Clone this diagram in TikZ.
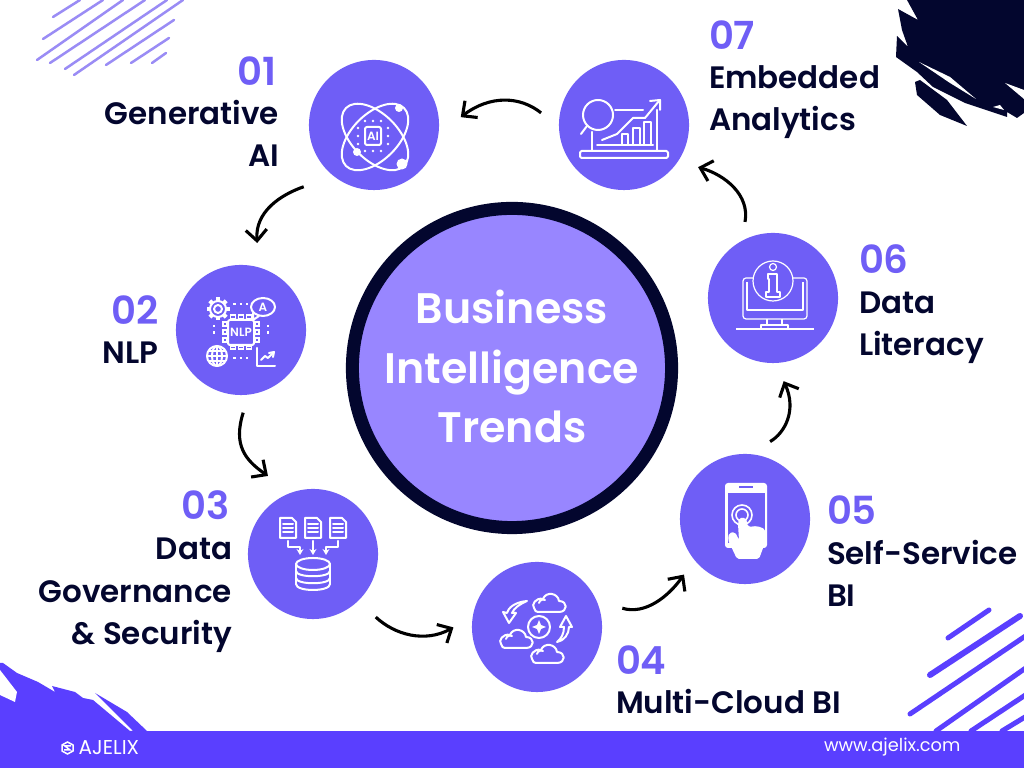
\documentclass[tikz,border=0pt]{standalone}
\usepackage{fontspec}
\setmainfont{Poppins}
\newfontfamily\semifont{Poppins SemiBold}
\usetikzlibrary{arrows.meta}
\definecolor{trendpurple}{HTML}{6F5EF6}
\definecolor{hubpurple}{HTML}{9886FF}
\definecolor{barpurple}{HTML}{5A3FFF}
\definecolor{linepurple}{HTML}{9A8CF5}
\definecolor{inknavy}{HTML}{03062E}
\tikzset{
  trend/.style={circle,fill=trendpurple,minimum size=1.3cm,inner sep=0pt,outer sep=0pt},
  hub/.style={circle,fill=hubpurple,draw=inknavy,line width=0.13cm,minimum size=3.19cm,inner sep=0pt},
  hubtitle/.style={inner sep=0pt,align=center,text=white,font=\semifont\fontsize{12.15}{16.8}\selectfont},
  numlabel/.style={inner sep=0pt,outer sep=0pt,text=trendpurple,font=\semifont\fontsize{11}{14}\selectfont},
  titlelabel/.style={inner sep=0pt,outer sep=0pt,text=inknavy,font=\semifont\fontsize{8.8}{12.1}\selectfont},
  flowline/.style={-{Straight Barb[length=0.11cm,width=0.21cm]},line width=0.031cm,black},
  icon/.style={draw=white,line width=0.02cm,line join=round,line cap=round},
  thinicon/.style={draw=white,line width=0.012cm,line join=round},
  dotrow/.style={white,line width=0.018cm,dash pattern=on 0.025cm off 0.04cm},
  tinylabel/.style={inner sep=0pt,text=white,font=\semifont\fontsize{3.4}{4}\selectfont}
}
\begin{document}
\begin{tikzpicture}[x=0.01cm,y=-0.01cm]
  \useasboundingbox[fill=white] (0,0) rectangle (1024,768);

  % corners
  \foreach \xa/\ya/\xb/\yb in {53/17/80/0,43/39/103/0,37/60/123/0,50/63/145/0,65/69/167/0,74/75/183/0,106/65/174/20,131/63/169/38,152/63/166/53}
    \draw[linepurple,line width=0.025cm,line cap=round] (\xa,\ya) -- (\xb,\yb);
  \foreach \xa/\ya/\xb/\yb/\w in {948/638/989/610/0.05,930/675/1020/616/0.06,910/714/1030/633/0.05,936/731/1030/665/0.05,971/731/1030/692/0.05,1002/731/1030/714/0.05}
    \draw[barpurple,line width=\w cm,line cap=round] (\xa,\ya) -- (\xb,\yb);
  \fill[inknavy] (907,0) -- (918,20) -- (898,9) -- (902,30) -- (908,47) -- (897,36) -- (896,57) -- (917,72) -- (933,87) -- (965,103) -- (1007,117) -- (1007,112) -- (1017,118) -- (1024,113) -- (1024,0) -- cycle;
  \fill[white] (919,62) -- (950,77) -- (976,99) -- (950,83) -- cycle;
  \fill[white] (1005,83) -- (1024,90) -- (1024,99) -- cycle;
  \fill[white] (993,107) -- (1000,105) -- (1004,110) -- cycle;
  \fill[inknavy] (915,82) -- (920,80) -- (947,100) -- (967,126) -- (940,115) -- (917,95) -- cycle;
  \fill[barpurple] (0,663) -- (3,663) -- (17,673) -- (38,682) -- (55,692) -- (52,686) -- (75,692) -- (83,698) -- (93,700) -- (130,731) -- (133,731) -- (95,693) -- (127,712) -- (147,731) -- (147,768) -- (0,768) -- cycle;
  \fill[white] (0,670) -- (17,692) -- (15,702) -- (0,695) -- cycle;
  \fill[barpurple] (0,731) rectangle (1024,768);

  % circles
  \node[hub] (hub) at (512,368) {};
  \node[hubtitle] (hubtext) at (512,366.5) {Business\\Intelligence\\Trends};
  \node[trend] (c01) at (374,125) {};
  \node[trend] (c02) at (241,330) {};
  \node[trend] (c03) at (313,554) {};
  \node[trend] (c04) at (537,627) {};
  \node[trend] (c05) at (745,519) {};
  \node[trend] (c06) at (773,298) {};
  \node[trend] (c07) at (624,125) {};

  % arrows
  \draw[flowline,shorten <=0.32cm,shorten >=0.245cm] (c01.232.8) .. controls (280,195) and (255,212) .. (c02.74.3);
  \draw[flowline,shorten <=0.19cm,shorten >=0.29cm] (c02.277) .. controls (233,445) and (245,460) .. (c03.109);
  \draw[flowline,shorten <=0.24cm,shorten >=0.22cm] (c03.314.4) .. controls (395,635) and (425,643) .. (c04.171.5);
  \draw[flowline,shorten <=0.27cm,shorten >=0.18cm] (c04.24.4) .. controls (645,615) and (668,597) .. (c05.219.4);
  \draw[flowline,shorten <=0.25cm,shorten >=0.20cm] (c05.87.7) .. controls (785,433) and (797,410) .. (c06.272.6);
  \draw[flowline,shorten <=0.195cm,shorten >=0.21cm] (c06.119) .. controls (750,195) and (725,175) .. (c07.326.3);
  \draw[flowline,shorten <=0.23cm,shorten >=0.28cm] (c07.182) .. controls (520,96) and (490,95) .. (c01.352);

  % labels
  \node[numlabel,anchor=base east] (n01) at (276.5,86) {01};
  \node[titlelabel,anchor=base east,align=right] (t01) at (279,167) {Generative\\AI};
  \node[numlabel,anchor=base east] (n02) at (159,325) {02};
  \node[titlelabel,anchor=base east] (t02) at (158.5,364) {NLP};
  \node[numlabel,anchor=base east] (n03) at (230,520) {03};
  \node[titlelabel,anchor=base east,align=right] (t03) at (232,645) {Data\\Governance\\\& Security};
  \node[numlabel,anchor=base west] (n04) at (616,675) {04};
  \node[titlelabel,anchor=base west] (t04) at (616,714) {Multi-Cloud BI};
  \node[numlabel,anchor=base west] (n05) at (827,525) {05};
  \node[titlelabel,anchor=base west,align=left] (t05) at (827,607) {Self-Service\\BI};
  \node[numlabel,anchor=base west] (n06) at (859,274) {06};
  \node[titlelabel,anchor=base west,align=left] (t06) at (859,356) {Data\\Literacy};
  \node[numlabel,anchor=base west] (n07) at (709,50) {07};
  \node[titlelabel,anchor=base west,align=left] (t07) at (709,131) {Embedded\\Analytics};

  % icon 01
  \draw[icon] (375,137) ellipse [x radius=41,y radius=23,rotate=45];
  \draw[icon] (375,137) ellipse [x radius=41,y radius=23,rotate=-45];
  \draw[icon,rounded corners=0.02cm] (365,127) rectangle (381,145);
  \node[tinylabel] (ai) at (373,136) {AI};
  \foreach \p in {-8,0,8} {
    \fill[white] (373+\p,121) circle (1.4);
    \fill[white] (373+\p,151) circle (1.4);
    \fill[white] (358,136+\p) circle (1.4);
    \fill[white] (388,136+\p) circle (1.4);
  }
  \fill[white] (399,108) circle (4);
  \fill[white] (357,152) circle (4);
  \fill[white] (402,164) circle (5.5);

  % icon 02
  \draw[icon] (218,309) circle (8);
  \draw[icon] (218,309) circle (4);
  \foreach \a in {0,45,...,315}
    \draw[white,line width=0.04cm] (218,309) ++(\a:8) -- ++(\a:3.5);
  \draw[icon] (263,307) ellipse [x radius=12,y radius=9];
  \draw[icon] (253,313) -- (253,320) -- (259,316);
  \node[tinylabel] (nA) at (263,307) {A};
  \draw[icon,rounded corners=0.02cm] (228,320) rectangle (254,345);
  \node[tinylabel] (nlp) at (241,332) {NLP};
  \foreach \p in {-8,0,8} {
    \draw[white,line width=0.014cm] (241+\p-2.5,319) rectangle (241+\p+2.5,315);
    \draw[white,line width=0.014cm] (241+\p-2.5,346) rectangle (241+\p+2.5,349);
    \draw[white,line width=0.014cm] (227,332+\p-2) rectangle (223,332+\p+2);
    \draw[white,line width=0.014cm] (255,332+\p-2) rectangle (259,332+\p+2);
  }
  \draw[dotrow] (233,304) -- (248,304);
  \draw[dotrow] (233,358) -- (248,358);
  \draw[dotrow] (214,325) -- (214,338);
  \draw[dotrow] (268,325) -- (268,338);
  \draw[icon] (217,356) circle (10);
  \draw[icon] (217,356) ellipse [x radius=5,y radius=10];
  \draw[icon] (207,356) -- (227,356) (209,351) -- (225,351) (209,361) -- (225,361) (217,346) -- (217,366);
  \draw[icon] (257,348) -- (257,366) -- (275,366);
  \draw[icon] (261,360) -- (265,356) -- (268,358) -- (273,353);
  \draw[icon] (269,353) -- (274,352) -- (273,357);

  % icon 03
  \foreach \x in {288,313,338} {
    \draw[icon] (\x-8,518) -- (\x+4,518) -- (\x+8,522) -- (\x+8,538) -- (\x-8,538) -- cycle;
    \draw[icon] (\x-5,524) -- (\x+5,524) (\x-5,528) -- (\x+5,528) (\x-5,532) -- (\x+5,532);
  }
  \draw[icon,-{Stealth[length=0.06cm,width=0.07cm]}] (288,541) -- (288,547) -- (300,547) -- (300,555);
  \draw[icon,-{Stealth[length=0.06cm,width=0.07cm]}] (313,541) -- (313,555);
  \draw[icon,-{Stealth[length=0.06cm,width=0.07cm]}] (338,541) -- (338,547) -- (326,547) -- (326,555);
  \draw[icon] (313,564) ellipse [x radius=17,y radius=6];
  \draw[icon] (296,564) -- (296,584) (330,564) -- (330,584);
  \draw[icon] (296,584) .. controls (296,592) and (330,592) .. (330,584);
  \draw[icon] (296,571) .. controls (296,578) and (330,578) .. (330,571);
  \draw[icon] (296,578) .. controls (296,585) and (330,585) .. (330,578);

  % icon 04
  \foreach \x/\y in {548/602,515/638,546/653} {
    \draw[icon,shift={(\x,\y)}] (-10,10) -- (11,10) .. controls (20,10) and (20,-1) .. (11,-1) .. controls (10,-9) and (-2,-11) .. (-5,-3) .. controls (-12,-5) and (-17,3) .. (-14,6) .. controls (-13,9) and (-12,10) .. (-10,10);
    \draw[icon,shift={(\x,\y)}] (-9,1) .. controls (-8,-2) and (-6,-3) .. (-3,-2);
  }
  \draw[icon] (539,627) circle (11);
  \fill[white] (539,620) -- (541,625) -- (546,627) -- (541,629) -- (539,634) -- (537,629) -- (532,627) -- (537,625) -- cycle;
  \draw[icon] (527,601) .. controls (515,602) and (508,608) .. (507,613) -- (503,612) -- (509,623) -- (516,613) -- (512,613) .. controls (514,608) and (520,604) .. (527,601);
  \draw[icon] (557,642) .. controls (564,641) and (569,634) .. (569,627) -- (572,627) -- (566,616) -- (560,627) -- (564,627) .. controls (564,634) and (561,639) .. (557,642);

  % icon 05
  \fill[white,rounded corners=0.03cm] (725,483) rectangle (767,548);
  \fill[trendpurple] (727.5,493) rectangle (764.5,543);
  \draw[trendpurple,line width=0.015cm] (739,487) -- (753,487);
  \draw[white,line width=0.016cm] (742,515) circle (10);
  \draw[white,line width=0.016cm] (742,515) circle (6);
  \fill[white,rounded corners=0.02cm] (738,524) -- (739,518) -- (746,518) -- (748,527) -- (757,526) -- (765,529) -- (766,540) -- (759,559) -- (737,559) -- (728,540) -- (729,533) -- (735,532) -- (739,540) -- cycle;

  % icon 06
  \draw[thinicon,rounded corners=0.03cm] (743,278) rectangle (807,319);
  \draw[thinicon] (747,282) -- (747,310) -- (803,310) -- (803,282);
  \draw[thinicon] (767,319) -- (767,325) (782,319) -- (782,325) (761,325) rectangle (788,329);
  \draw[thinicon] (736,329) -- (814,329);
  \draw[thinicon,fill=trendpurple] (773,281) circle (20);
  \draw[thinicon] (773,267) circle (3.5);
  \draw[thinicon] (768,274) -- (777,274) -- (777,292) -- (780,292) -- (780,297) -- (766,297) -- (766,292) -- (769,292) -- (769,279) -- (768,279) -- cycle;

  % icon 07
  \draw[icon] (598,115) circle (15);
  \draw[icon] (587,126) -- (581,134);
  \draw[icon] (592,132) -- (592,151) (657,110) -- (657,151) (615,110) -- (643,110);
  \draw[icon,rounded corners=0.015cm] (580,151) rectangle (668,158);
  \draw[icon] (597,145) -- (653,145);
  \draw[icon] (602,140) -- (617,134) -- (633,118) -- (645,118) -- (659,101);
  \draw[icon] (650,101) -- (660,100) -- (660,110);
  \draw[icon] (622,145) -- (622,134) -- (628,134) -- (628,145);
  \draw[icon] (633,145) -- (633,128) -- (640,128) -- (640,145);
  \draw[icon] (644,145) -- (644,122) -- (651,122) -- (651,145);

  % footer
  \draw[white,line width=0.015cm] (67.5,742) -- (73,745) -- (73,751) -- (67.5,754) -- (62,751) -- (62,745) -- cycle;
  \draw[white,line width=0.015cm] (71,746) -- (65,746) -- (70,750) -- (64,750);
  \node[inner sep=0pt,text=white,anchor=base west,font=\fontsize{5.7}{7}\selectfont] (logo) at (78,755) {AJELIX};
  \node[inner sep=0pt,text=white,anchor=base east,font=\fontsize{5.05}{6}\selectfont] (web) at (961,752) {www.ajelix.com};
\end{tikzpicture}
\end{document}
